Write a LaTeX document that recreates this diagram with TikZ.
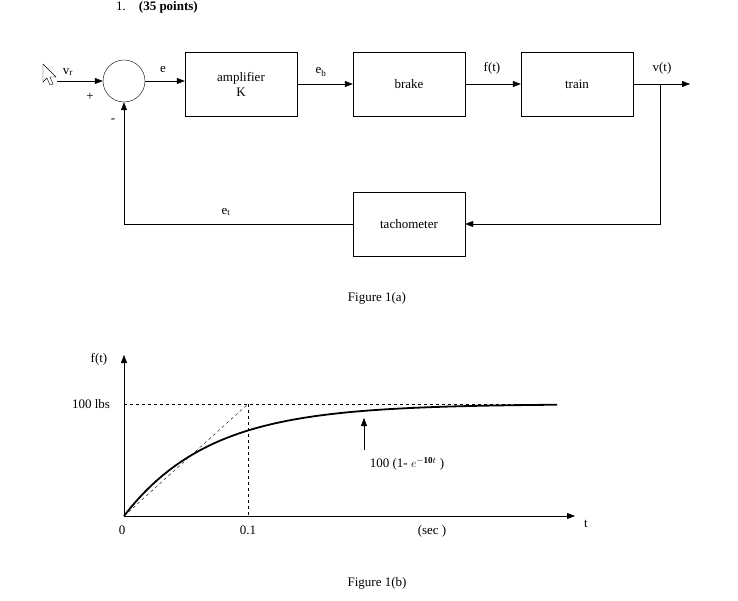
\documentclass[tikz,border=0pt]{standalone}
\usepackage{fontspec}
\setmainfont{Liberation Serif}
\usetikzlibrary{arrows.meta}
\begin{document}
\begin{tikzpicture}[x=1pt,y=-1pt,font=\fontsize{13}{15}\selectfont,
  blk/.style={draw,minimum width=112pt,minimum height=64pt,align=center,inner sep=0},
  sig/.style={-{Triangle[length=8pt,width=6pt]}},
  lbl/.style={inner sep=0}]
\useasboundingbox (0,0) rectangle (738,601);
\node[lbl] (title) at (157,7) {1.\quad\textbf{(35 points)}};
% cursor
\draw[fill=white] (43,64) -- (43,82) -- (47,78) -- (50,85) -- (53,84) -- (50,77) -- (56,77) -- cycle;
\node[draw,circle,minimum size=42pt,inner sep=0] (sum) at (124,81) {};
\coordinate (in) at (57,81);
\node[blk] (amp) at (241,84) {amplifier\\K};
\node[blk] (brake) at (409,84) {brake};
\node[blk] (train) at (577,84) {train};
\node[blk] (tach) at (409,224) {tachometer};
\coordinate (out) at (690,84);
\coordinate (tap) at (660,84);
\draw[sig] (in) -- (sum.west);
\draw[sig] (sum.east) -- (amp.west |- sum.east);
\draw[sig] (amp.east) -- (brake.west);
\draw[sig] (brake.east) -- (train.west);
\draw[sig] (train.east) -- (out);
\draw[sig] (tap) |- (tach.east);
\draw[sig] (tach.west) -| (sum.south);
\node[lbl] (vr) at (68,72) {v$_\mathrm{r}$};
\node[lbl] (plus) at (90,97) {+};
\node[lbl] (minus) at (113,121) {-};
\node[lbl] (e) at (163,70) {e};
\node[lbl] (eb) at (321,72) {e$_\mathrm{b}$};
\node[lbl] (ft) at (492,68) {f(t)};
\node[lbl] (vt) at (662,68) {v(t)};
\node[lbl] (et) at (226,212) {e$_\mathrm{t}$};
\node[lbl] (cap1) at (377,298) {Figure 1(a)};
% graph
\coordinate (O) at (124,516);
\coordinate (ytop) at (124,355);
\coordinate (xend) at (575,516);
\draw[sig] (O) -- (ytop);
\draw[sig] (O) -- (xend);
\draw[dashed,thin] (124,404) -- (557,404);
\draw[dashed,thin] (248,404) -- (248,516);
\draw[dashed,thin] (O) -- (248,404);
\draw[line width=1.8pt] plot[domain=0:433,samples=80,smooth] ({124+\x},{516-112*(1-exp(-\x/86))});
\coordinate (ar1) at (364,450);
\coordinate (ar2) at (364,418);
\draw[sig] (ar1) -- (ar2);
\node[lbl] (fty) at (99,359) {f(t)};
\node[lbl] (lbs) at (91,404) {100 lbs};
\node[lbl] (form) at (407,464) {100 (1- $e^{\mathbf{-10}t}$ )};
\node[lbl] (z) at (122,530) {0};
\node[lbl] (p1) at (248,530) {0.1};
\node[lbl] (sec) at (432,531) {(sec )};
\node[lbl] (t) at (586,524) {t};
\node[lbl] (cap2) at (377,583) {Figure 1(b)};
\end{tikzpicture}
\end{document}
